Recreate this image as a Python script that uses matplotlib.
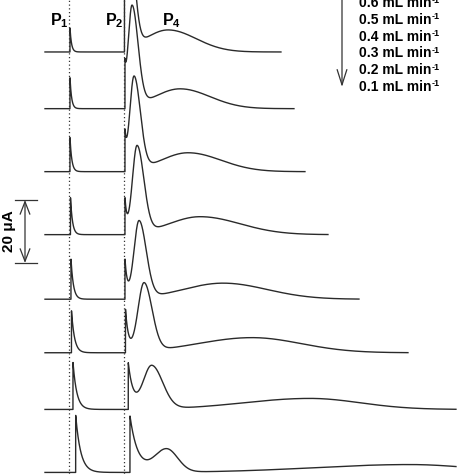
import numpy as np
import matplotlib.pyplot as plt

plt.rcParams['font.family'] = ['Liberation Sans', 'DejaVu Sans']
plt.rcParams['mathtext.fontset'] = 'custom'
plt.rcParams['mathtext.rm'] = 'Liberation Sans:bold'
plt.rcParams['mathtext.bf'] = 'Liberation Sans:bold'
plt.rcParams['mathtext.it'] = 'Liberation Sans:bold'
plt.rcParams['mathtext.default'] = 'bf'

# flow rates (mL/min), top trace first
flow_rates = ["0.8", "0.7", "0.6", "0.5", "0.4", "0.3", "0.2", "0.1"]
# vertical offset of each trace (uA)
offsets = [133.5, 115.5, 95.5, 75.5, 55.0, 38.0, 20.0, 0.0]
# recording length of each trace (s)
end_time = [236, 249, 260, 283, 314, 363, 411, 411]

# P1 / P2 spikes (time s, height uA, decay constant s)
p1_time = [25, 25, 25, 25.5, 26, 26.5, 28, 30.7]
p1_height = [7.6, 9.8, 10.8, 11.7, 12.7, 13.3, 14.9, 18.1]
p1_tau = [1.5, 1.6, 1.8, 2.0, 2.4, 3.0, 3.8, 5.0]
p2_time = [79.5, 80, 80, 80, 80, 80.5, 83.3, 85]
p2_height = [9.5, 9.5, 10.2, 10.5, 12.0, 13.3, 14.5, 17.8]
p2_tau = [1.5, 1.6, 1.8, 2.0, 2.4, 3.0, 5.0, 7.9]

# P3 peak
p3_time = [84, 87, 89, 92, 94, 99, 106.7, 121.7]
p3_height = [35.5, 31.7, 29.5, 27.6, 24.4, 21.6, 13.7, 7.3]
p3_sig_l = [3.5, 3.8, 4.2, 4.6, 5.0, 6.0, 8.3, 12.0]
p3_sig_r = [5.5, 6.0, 6.3, 6.8, 7.2, 8.0, 11.0, 11.0]

# P4 peak
p4_time = [123, 135, 143, 155, 178, 207, 265, 365]
p4_height = [7.0, 6.3, 6.0, 5.7, 5.1, 4.8, 3.5, 2.5]
p4_sig_l = [23, 25.5, 27, 31, 40, 54, 66, 95]
p4_sig_r = [28, 30, 33, 40, 44, 49, 50, 60]

# peak labels
peak_labels = ["P$_1$", "P$_2$", "P$_4$"]
peak_label_time = [5, 60, 117]


def spike(t, t0, h, tau):
    return np.where(t >= t0, h * np.exp(-np.clip(t - t0, 0, None) / tau), 0.0)


def skew_peak(t, t0, h, sl, sr):
    s = np.where(t < t0, sl, sr)
    return h * np.exp(-0.5 * ((t - t0) / s) ** 2)


fig = plt.figure(figsize=(4.74, 4.74), dpi=100)
ax = fig.add_axes([0, 0, 1, 1])
ax.set_xlim(-45, 429)
ax.set_ylim(-0.5, 150)
ax.axis('off')

line_col = '#2a2a2a'

for i in range(len(flow_rates)):
    t = np.arange(0, end_time[i], 0.05)
    y = spike(t, p1_time[i], p1_height[i], p1_tau[i])
    late = spike(t, p2_time[i], p2_height[i], p2_tau[i])
    late += skew_peak(t, p3_time[i], p3_height[i], p3_sig_l[i], p3_sig_r[i])
    late += skew_peak(t, p4_time[i], p4_height[i], p4_sig_l[i], p4_sig_r[i])
    y += np.where(t >= p2_time[i], late, 0.0)
    ax.plot(t, y + offsets[i], color=line_col, lw=1.0)

# dotted markers for P1 and P2
for tx in [24, 79]:
    ax.axvline(tx, color='#333333', lw=0.9, ls=(0, (1, 2)))

# peak labels
for lab, tx in zip(peak_labels, peak_label_time):
    ax.text(tx, 142, lab, fontsize=11.5, fontweight='bold', ha='left', va='baseline')

# flow-rate list (only the rows inside the picture) with arrow
for i, rate in enumerate(flow_rates):
    base_px = 7.3 + (i - 2) * 16.7
    if base_px < 0:
        continue
    txt = ax.text(314, (474 - base_px) / 3.15 - 0.5, rate + " mL min",
                  fontsize=10, fontweight='bold', ha='left', va='baseline')
    ax.annotate("-1", xy=(1, 0), xycoords=txt, xytext=(0.3, 5.5),
                textcoords='offset points', fontsize=6.5, fontweight='bold',
                ha='left', va='baseline')
ax.annotate("", xy=(297, 122.4), xytext=(297, 165),
            arrowprops=dict(arrowstyle='->,head_length=1.1,head_width=0.35',
                            lw=0.9, color='#333333', shrinkA=0, shrinkB=0))

# 20 uA scale bar
bar_lo, bar_hi = 66.5, 86.5
for yb in [bar_lo, bar_hi]:
    ax.plot([-30, -8], [yb, yb], color='#333333', lw=0.9)
ax.annotate("", xy=(-20, bar_hi), xytext=(-20, bar_lo),
            arrowprops=dict(arrowstyle='<->,head_length=0.9,head_width=0.35',
                            lw=0.9, color='#333333', shrinkA=0, shrinkB=0))
ax.text(-36, (bar_lo + bar_hi) / 2, "20 μA", rotation=90, fontsize=11,
        fontweight='bold', ha='center', va='center')

fig.savefig('out.png', dpi=100)
plt.close(fig)
